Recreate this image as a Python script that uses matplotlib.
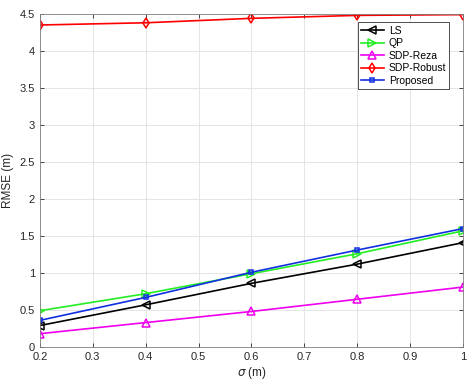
import matplotlib
matplotlib.use("Agg")
import matplotlib.pyplot as plt

plt.rcParams['font.family'] = ['Liberation Sans', 'DejaVu Sans']

sigma = [0.2, 0.4, 0.6, 0.8, 1.0]
ls = [0.29, 0.57, 0.86, 1.12, 1.41]
qp = [0.49, 0.72, 0.99, 1.26, 1.57]
sdp_reza = [0.18, 0.33, 0.48, 0.645, 0.81]
sdp_robust = [4.35, 4.38, 4.44, 4.48, 4.49]
proposed = [0.36, 0.67, 1.01, 1.31, 1.60]

fig = plt.figure(figsize=(4.74, 3.86), dpi=100)
ax = fig.add_axes([0.084, 0.101, 0.893, 0.863])

ax.plot(sigma, ls, color='black', marker='<', mfc='none', ms=5.5, mew=1.1, lw=1.2, label='LS')
ax.plot(sigma, qp, color='#22ee22', marker='>', mfc='none', ms=5.5, mew=1.1, lw=1.2, label='QP')
ax.plot(sigma, sdp_reza, color='#ee00ee', marker='^', mfc='none', ms=5.5, mew=1.1, lw=1.2, label='SDP-Reza')
ax.plot(sigma, sdp_robust, color='red', marker='d', mfc='none', ms=5.5, mew=1.1, lw=1.2, label='SDP-Robust')
ax.plot(sigma, proposed, color='#1030e0', marker='s', mfc='none', ms=3.5, mew=1.1, lw=1.2, label='Proposed')

ax.set_xlim(0.2, 1)
ax.set_ylim(0, 4.5)
ax.set_xticks([0.2, 0.3, 0.4, 0.5, 0.6, 0.7, 0.8, 0.9, 1])
ax.set_xticklabels(['0.2', '0.3', '0.4', '0.5', '0.6', '0.7', '0.8', '0.9', '1'])
ax.set_yticks([0, 0.5, 1, 1.5, 2, 2.5, 3, 3.5, 4, 4.5])
ax.set_yticklabels(['0', '0.5', '1', '1.5', '2', '2.5', '3', '3.5', '4', '4.5'])
ax.grid(True, color='#e0e0e0', lw=0.6)
ax.tick_params(labelsize=8, colors='#262626', direction='in', length=3, width=0.6, top=True, right=True)
for s in ax.spines.values():
    s.set_color('#808080')
    s.set_linewidth(0.6)
ax.set_xlabel(r'$\sigma$ (m)', fontsize=8.5, color='#262626', labelpad=2)
ax.set_ylabel('RMSE (m)', fontsize=8.5, color='#262626', labelpad=4)

leg = ax.legend(loc='upper right', fontsize=7.5, fancybox=False, framealpha=1,
                edgecolor='#303030', borderpad=0.3, labelspacing=0.25, handlelength=2.2,
                handletextpad=0.5, bbox_to_anchor=(0.98, 0.99))
leg.get_frame().set_linewidth(0.6)

fig.savefig('out.png', dpi=100)
